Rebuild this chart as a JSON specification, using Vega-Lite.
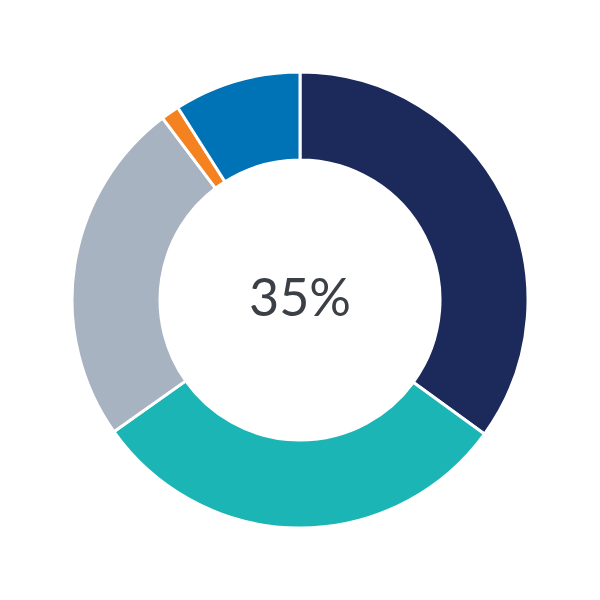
{
  "$schema": "https://vega.github.io/schema/vega-lite/v6.json",
  "width": 600,
  "height": 600,
  "autosize": {"type": "fit", "contains": "padding"},
  "padding": 0,
  "background": "white",
  "view": {"stroke": null},
  "data": {
    "values": [
      {"segment": "A", "rank": 1, "share": 35},
      {"segment": "B", "rank": 2, "share": 30.2},
      {"segment": "C", "rank": 3, "share": 24.5},
      {"segment": "D", "rank": 4, "share": 1.3},
      {"segment": "E", "rank": 5, "share": 9}
    ]
  },
  "layer": [
    {
      "mark": {"type": "arc", "innerRadius": 140, "outerRadius": 228, "stroke": "white", "strokeWidth": 3},
      "encoding": {
        "theta": {"field": "share", "type": "quantitative", "stack": true},
        "order": {"field": "rank", "type": "quantitative"},
        "color": {
          "field": "segment",
          "type": "nominal",
          "legend": null,
          "scale": {
            "domain": ["A", "B", "C", "D", "E"],
            "range": ["#1b2a5b", "#1cb5b5", "#a8b3c2", "#f58220", "#0072b6"]
          }
        }
      }
    },
    {
      "data": {"values": [{"label": "35%"}]},
      "mark": {"type": "text", "font": "Lato", "fontWeight": 400, "fontSize": 52, "color": "#3b4046", "baseline": "middle", "align": "center"},
      "encoding": {"text": {"field": "label"}}
    }
  ]
}
